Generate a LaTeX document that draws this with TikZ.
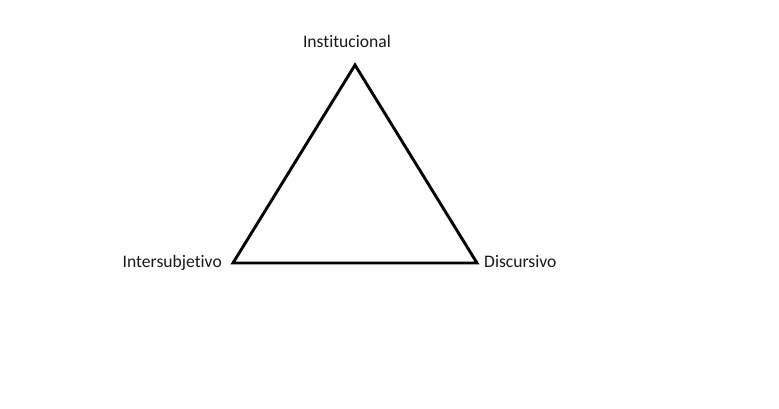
\documentclass[tikz,border=0pt]{standalone}
\usepackage{fontspec}
\setmainfont[Ligatures={NoCommon}]{Carlito}
\begin{document}
\begin{tikzpicture}[x=1pt,y=-1pt,
  lbl/.style={inner sep=0pt,font=\fontsize{17.6}{19}\selectfont,text=black!90}]
\useasboundingbox[fill=white] (0,0) rectangle (779,409);
\coordinate (T) at (355,65);
\coordinate (L) at (233,263);
\coordinate (R) at (477,263);
\draw[line width=2.9pt,line join=miter] (T) -- (L) -- (R) -- cycle;
\node[lbl,anchor=base] (ti) at (347,48) {Institucional};
\node[lbl,anchor=base east] (tl) at (222,267) {Intersubjetivo};
\node[lbl,anchor=base west] (tr) at (484,267) {Discursivo};
\end{tikzpicture}
\end{document}
